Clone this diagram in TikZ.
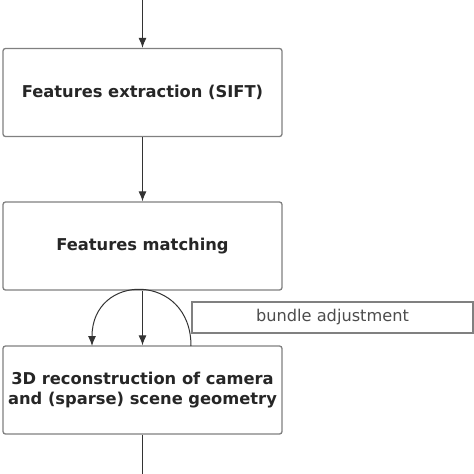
\documentclass[tikz,border=0pt]{standalone}
\usepackage{fontspec}
\setmainfont{DejaVu Sans}
\usetikzlibrary{arrows.meta}
\begin{document}
\begin{tikzpicture}[x=1pt,y=-1pt,
  stepbox/.style={draw=black!50,line width=1.3pt,rounded corners=2.5pt,minimum width=279pt,minimum height=88pt,inner sep=0pt,font=\fontsize{16.3}{20}\selectfont\bfseries,text=black!85,align=center},
  notebox/.style={draw=black!50,line width=1.3pt,minimum width=281pt,minimum height=31pt,inner sep=0pt,font=\fontsize{16.2}{19}\selectfont,text=black!70},
  conn/.style={draw=black!80,line width=1pt,-{Latex[length=10pt,width=8pt]}}]
\useasboundingbox (0,0) rectangle (474,474);
\node[stepbox] (b1) at (142.5,92.5) {Features extraction (SIFT)};
\node[stepbox] (b2) at (142.5,246) {Features matching};
\node[stepbox] (b3) at (142.5,390) {3D reconstruction of camera\\and (sparse) scene geometry};
\node[notebox] (ba) at (332.5,317.5) {bundle adjustment};
\coordinate (top) at (142.5,0);
\coordinate (bot) at (142.5,474);
\draw[conn] (top) -- (b1.north);
\draw[conn] (b1.south) -- (b2.north);
\draw[conn] (b2.south) -- (b3.north);
\draw[draw=black!80,line width=1pt] (b3.south) -- (bot);
\coordinate (aR) at (191,346);
\coordinate (aL) at (92,346);
\draw[conn] (aR) .. controls (191,272) and (92,272) .. (aL);
\end{tikzpicture}
\end{document}
